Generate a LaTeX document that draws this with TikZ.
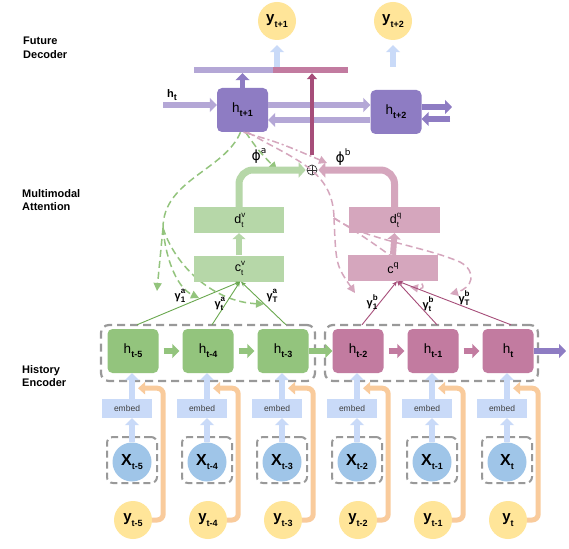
\documentclass[tikz,border=0pt]{standalone}
\usepackage{fontspec}
\setmainfont{Liberation Sans}
\newfontfamily\phifont{DejaVu Sans}
\usetikzlibrary{arrows.meta,calc}
\definecolor{purp}{HTML}{8E7CC3}
\definecolor{lav}{HTML}{B4A7D6}
\definecolor{mauve}{HTML}{C27BA0}
\definecolor{dmauve}{HTML}{A64D79}
\definecolor{lpink}{HTML}{D5A6BD}
\definecolor{hgreen}{HTML}{93C47D}
\definecolor{lgreen}{HTML}{B6D7A8}
\definecolor{mgreen}{HTML}{6AA84F}
\definecolor{lblue}{HTML}{C9DAF8}
\definecolor{xblue}{HTML}{9FC5E8}
\definecolor{yel}{HTML}{FFE599}
\definecolor{oran}{HTML}{F9CB9C}
\definecolor{dgrey}{HTML}{999999}
\newcommand\tsub[2]{#1\raisebox{-0.3em}{\fontsize{9}{10}\selectfont\bfseries #2}}
\newcommand\tsupsub[3]{#1\rlap{\raisebox{0.5em}{\fontsize{8}{9}\selectfont #2}}\raisebox{-0.3em}{\fontsize{8}{9}\selectfont #3}}
\newcommand\tsupsubb[3]{#1\rlap{\raisebox{0.55em}{\fontsize{8}{9}\selectfont\bfseries #2}}\raisebox{-0.3em}{\fontsize{8}{9}\selectfont\bfseries #3}}
\newcommand\tsup[2]{#1\raisebox{0.5em}{\fontsize{9}{10}\selectfont #2}}
\begin{document}
\begin{tikzpicture}[x=1pt,y=-1pt,
  hbox/.style={rounded corners=5pt, minimum width=51pt, minimum height=44pt, inner sep=0pt, font=\fontsize{13.5}{15}\selectfont},
  ebox/.style={fill=lblue, minimum width=50pt, minimum height=19pt, inner sep=0pt, font=\fontsize{8.5}{9}\selectfont, text=black!75},
  xcirc/.style={circle, fill=xblue, minimum size=39pt, inner sep=0pt, font=\fontsize{16}{17}\selectfont\bfseries},
  ycirc/.style={circle, fill=yel, minimum size=38pt, inner sep=0pt, font=\fontsize{15}{16}\selectfont\bfseries},
  xframe/.style={draw=dgrey, line width=2pt, dash pattern=on 7pt off 4pt, rounded corners=6pt, minimum width=50pt, minimum height=46pt},
  bigframe/.style={draw=dgrey, line width=2.2pt, dash pattern=on 8pt off 5pt, rounded corners=8pt, minimum height=56pt},
  attbox/.style={minimum width=90pt, minimum height=26pt, inner sep=0pt, font=\fontsize{12.5}{15}\selectfont},
  fat/.style={line width=6pt, -{Triangle[length=7pt,width=14pt]}},
  fatlav/.style={fat, draw=lav, fill=lav},
  fatpurp/.style={fat, draw=purp, fill=purp},
  bluearr/.style={fat, draw=lblue, fill=lblue},
  orarr/.style={line width=5pt, draw=oran, rounded corners=6pt, -{Triangle[length=7pt,width=12pt]}},
  gdash/.style={draw=hgreen, line width=1.5pt, dash pattern=on 7pt off 4pt},
  pdash/.style={draw=lpink, line width=1.5pt, dash pattern=on 7pt off 4pt},
  dtip/.style={-{Triangle[length=8pt,width=8pt]}},
  thinarr/.style={line width=0.9pt, -{Stealth[length=5pt,width=4pt]}},
  sidelab/.style={font=\fontsize{11}{13.5}\selectfont\bfseries, align=left, anchor=north west, inner sep=0pt},
  glab/.style={font=\fontsize{11}{12}\selectfont\bfseries, inner sep=0pt}
]
\useasboundingbox (0,0) rectangle (569,548);
\fill[white] (0,0) rectangle (569,548);

% side labels
\node[sidelab] (lab1) at (23,37) {Future\\Decoder};
\node[sidelab] (lab2) at (22,189) {Multimodal\\Attention};
\node[sidelab] (lab3) at (22,365) {History\\Encoder};

% decoder
\node[ycirc] (ya) at (277,21) {\tsub{y}{t+1}};
\node[ycirc] (yb) at (393,21) {\tsub{y}{t+2}};
\node[fill=lav, minimum width=79pt, minimum height=6pt, inner sep=0pt] (barL) at (233.5,70) {};
\node[fill=mauve, minimum width=75pt, minimum height=6pt, inner sep=0pt] (barR) at (310.5,70) {};
\coordinate (ybase) at (393,67);
\draw[bluearr] (barL.north -| ya) -- ([yshift=-5pt]ya.south);
\draw[bluearr] (ybase) -- ([yshift=-5pt]yb.south);

\node[hbox, fill=purp] (hp1) at (242.5,110) {\tsub{h}{t+1}};
\node[hbox, fill=purp] (hp2) at (396,112) {\tsub{h}{t+2}};
\coordinate (htin) at (163,105);
\draw[fatlav] (htin) -- (htin -| hp1.west);
\node[glab] (htlab) at (172,95) {\tsub{h}{t}};
\draw[fatlav] ([yshift=5pt]hp1.east) -- ([yshift=5pt]hp1.east -| hp2.west);
\draw[fatlav] ([yshift=-8pt]hp2.west) -- ([yshift=-8pt]hp2.west -| hp1.east);
\coordinate (o1) at (452,107);
\coordinate (o2) at (450,119);
\draw[fatpurp] ([yshift=5pt]hp2.east) -- (o1);
\draw[fatpurp] (o2) -- ([yshift=-7pt]hp2.east);
\draw[fatpurp, line width=5pt] (hp1.north) -- (hp1.north |- barL.south);

% oplus
\node[circle, draw=black!80, line width=0.7pt, minimum size=10pt, inner sep=0pt,
  path picture={\draw[black!80, line width=0.7pt] (path picture bounding box.north) -- (path picture bounding box.south) (path picture bounding box.east) -- (path picture bounding box.west);}] (op) at (312,170) {};
\draw[dmauve, line width=4pt, -{Triangle[length=6pt,width=10pt]}] ([yshift=10pt]op.north) -- (op.north |- barR.south);
\node[font=\fontsize{14}{16}\selectfont] (phia) at (259,156) {\tsup{\phifont ϕ}{a}};
\node[font=\fontsize{14}{16}\selectfont] (phib) at (343,157) {\tsup{\phifont ϕ}{b}};

% dashed attention curves (behind boxes)
\coordinate (gfork) at (163,228);
\coordinate (ga1) at (157,291);
\coordinate (ga2) at (199,298);
\coordinate (ga3) at (264,304);
\draw[gdash] ([xshift=-2pt]hp1.south) .. controls (225,170) and (163,180) .. (gfork);
\draw[gdash, dtip] (gfork) .. controls (160,255) .. (ga1);
\draw[gdash, dtip] (gfork) .. controls (166,262) and (178,288) .. (ga2);
\draw[gdash, dtip] (gfork) .. controls (176,268) and (215,302) .. (ga3);
\coordinate (gphi) at (277,170);
\draw[gdash, dtip] ([xshift=3pt]hp1.south) .. controls (258,150) .. (gphi);
\coordinate (pphi) at (327,163);
\draw[draw=lpink, line width=1.5pt, dash pattern=on 7pt off 3pt on 2pt off 3pt, dtip] ([xshift=1pt]hp1.south) .. controls (280,143) .. (pphi);
\coordinate (pfork) at (334,218);
\coordinate (pb1) at (355,293);
\coordinate (pb2) at (410,287);
\coordinate (pb3) at (450,294);
\draw[pdash] ([xshift=5pt]hp1.south) .. controls (295,160) and (333,170) .. (pfork);
\draw[pdash, dtip] (pfork) .. controls (336,265) .. (pb1);
\draw[pdash, dtip] (pfork) .. controls (390,252) and (440,292) .. (pb2);
\draw[pdash, dtip] (pfork) .. controls (365,240) and (420,245) .. (460,262) .. controls (478,272) and (472,288) .. (pb3);

% attention boxes
\node[attbox, fill=lgreen] (dv) at (239,220) {\tsupsub{d}{v}{t}};
\node[attbox, fill=lgreen] (cv) at (239,268.5) {\tsupsub{c}{v}{t}};
\node[attbox, fill=lpink, minimum width=91pt] (dq) at (394.5,220) {\tsupsub{d}{q}{t}};
\node[attbox, fill=lpink] (cq) at (393,268) {\tsup{c}{q}};
\draw[line width=6pt, draw=lgreen, -{Triangle[length=6pt,width=13pt]}] (cv.north) -- (dv.south);
\draw[line width=6pt, draw=lpink, -{Triangle[length=6pt,width=13pt]}] (cq.north) -- (dq.south);
\draw[line width=7pt, draw=lgreen, rounded corners=14pt, -{Triangle[length=7pt,width=15pt]}] (dv.north) |- ([xshift=-1pt]op.west);
\draw[line width=7pt, draw=lpink, rounded corners=14pt, -{Triangle[length=7pt,width=15pt]}] (dq.north) |- ([xshift=1pt]op.east);

% encoder frames
\node[bigframe, minimum width=214pt] (enc1) at (208,353) {};
\node[bigframe, minimum width=213pt] (enc2) at (431.5,353) {};

% encoder
\foreach \c/\n/\s/\f in {132/5/t-5/hgreen, 207/4/t-4/hgreen, 282/3/t-3/hgreen, 357/2/t-2/mauve, 432/1/t-1/mauve, 507/0/t/mauve} {
  \node[hbox, fill=\f] (h\n) at (\c+1,351) {\tsub{h}{\s}};
  \node[ebox] (e\n) at (\c-5,408.5) {embed};
  \node[xframe] (xf\n) at (\c,460) {};
  \node[xcirc] (x\n) at (\c,462) {\tsub{X}{\s}};
  \node[ycirc] (y\n) at (\c+1,520) {\tsub{y}{\s}};
  \draw[bluearr] (x\n.north) -- (x\n.north |- e\n.south);
  \draw[bluearr] (x\n.north |- e\n.north) -- (x\n.north |- h\n.south);
  \draw[orarr] (y\n.east) -- ++(11,0) |- ([xshift=5pt,yshift=-15pt]h\n.south);
}
\draw[fat, draw=hgreen, shorten <=5pt, shorten >=3pt] (h5.east) -- (h4.west);
\draw[fat, draw=hgreen, shorten <=5pt, shorten >=3pt] (h4.east) -- (h3.west);
\draw[fat, draw=hgreen] (h3.east) -- (h2.west);
\draw[fat, draw=mauve, shorten <=5pt, shorten >=3pt] (h2.east) -- (h1.west);
\draw[fat, draw=mauve, shorten <=5pt, shorten >=3pt] (h1.east) -- (h0.west);
\coordinate (hout) at (566,351);
\draw[fatpurp] (h0.east) -- (hout);

% attention weights
\draw[thinarr, draw=mgreen] ([xshift=4pt,yshift=4pt]h5.north) -- ([xshift=1pt]cv.south);
\draw[thinarr, draw=mgreen] ([xshift=4pt,yshift=4pt]h4.north) -- ([xshift=1pt]cv.south);
\draw[thinarr, draw=mgreen] ([xshift=3pt,yshift=4pt]h3.north) -- ([xshift=2pt]cv.south);
\draw[thinarr, draw=dmauve] ([xshift=4pt,yshift=4pt]h2.north) -- ([xshift=4pt]cq.south);
\draw[thinarr, draw=dmauve] ([xshift=4pt,yshift=4pt]h1.north) -- ([xshift=4pt]cq.south);
\draw[thinarr, draw=dmauve] ([xshift=3pt,yshift=4pt]h0.north) -- ([xshift=5pt]cq.south);
\node[glab] (g1a) at (180,296) {\tsupsubb{γ}{a}{1}};
\node[glab] (gta) at (219,304) {\tsupsubb{γ}{a}{t}};
\node[glab] (gTa) at (272,296) {\tsupsubb{γ}{a}{T}};
\node[glab] (g1b) at (372,302) {\tsupsubb{γ}{b}{1}};
\node[glab] (gtb) at (427,304) {\tsupsubb{γ}{b}{t}};
\node[glab] (gTb) at (464,298) {\tsupsubb{γ}{b}{T}};
\end{tikzpicture}
\end{document}
